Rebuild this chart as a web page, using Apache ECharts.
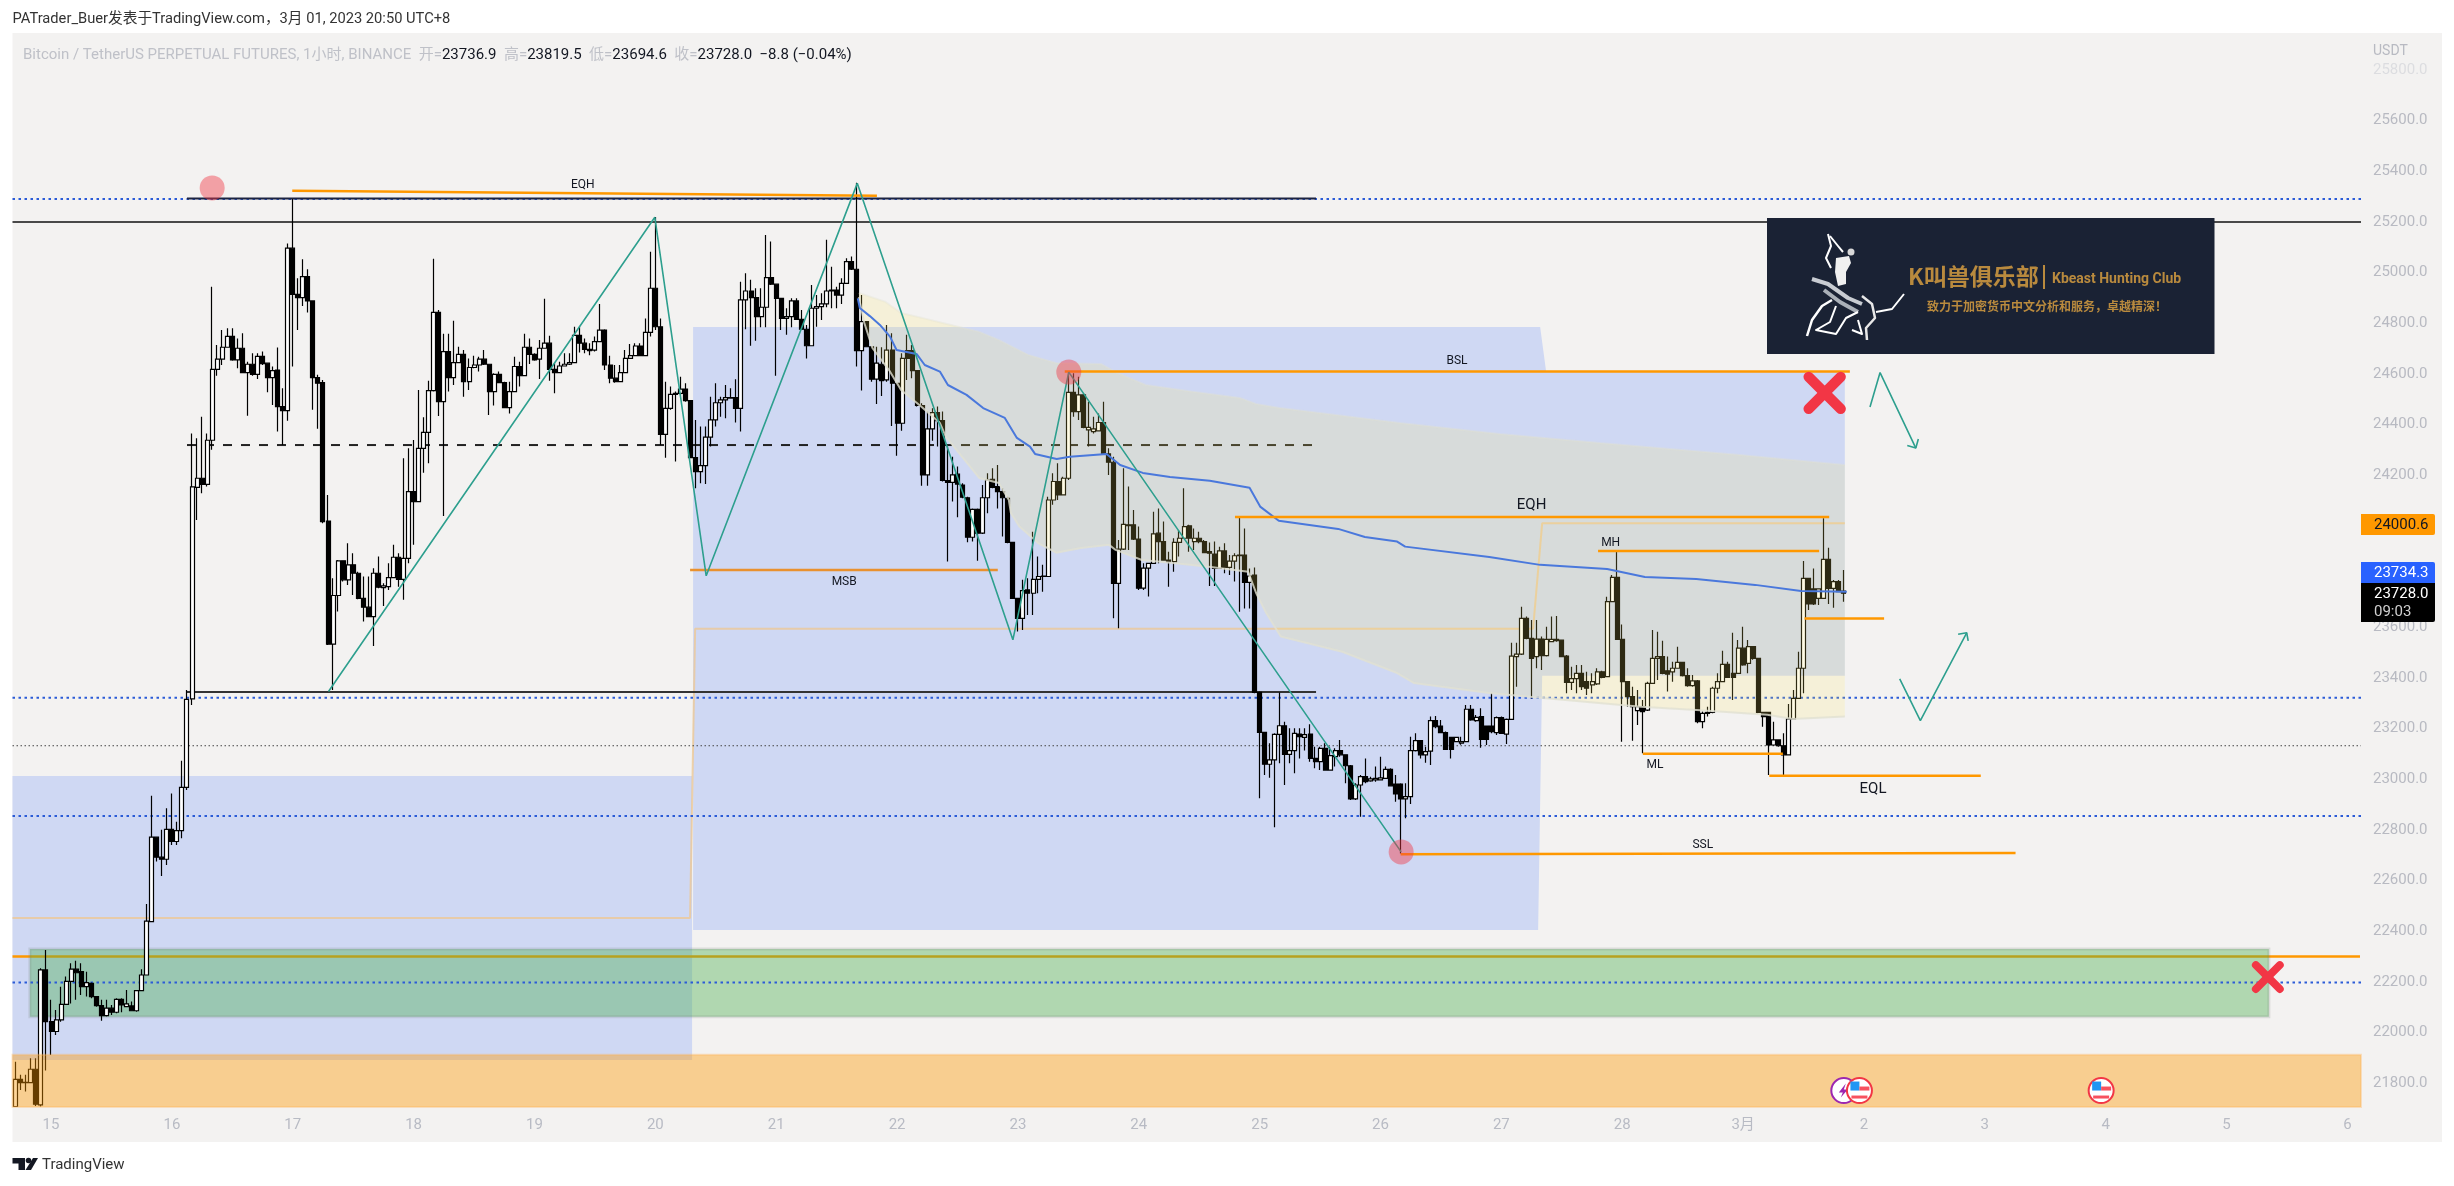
<!DOCTYPE html>
<html>
<head>
<meta charset="utf-8">
<title>BTCUSDT 1H</title>
<style>
html, body { margin: 0; padding: 0; background: #fff; }
#chart { width: 2454px; height: 1186px; }
</style>
<script src="https://cdn.jsdelivr.net/npm/echarts@6/dist/echarts.min.js"></script>
</head>
<body>
<div id="chart"></div>
<script>
// hourly candles, one row per hour: open, close, low, high
var candlesFeb14 = [
  [21702,21809,21700,21879],[21809,21796,21767,21827],[21796,21797,21761,21827],[21796,21849,21794,21892],
  [21849,21711,21704,21892],[21708,22241,21702,22248],[22241,22037,21844,22320]
]
var candlesFeb15 = [
  [22037,21998,21905,22123],[21998,22044,21984,22083],[22044,22105,22037,22175],[22105,22196,22103,22215],
  [22196,22244,22109,22267],[22244,22230,22123,22277],[22234,22175,22142,22267],[22175,22191,22136,22234],
  [22188,22136,22129,22191],[22136,22100,22096,22136],[22100,22061,22040,22123],[22061,22090,22057,22123],
  [22090,22074,22063,22103],[22074,22125,22070,22129],[22125,22103,22074,22129],[22096,22107,22094,22162],
  [22099,22080,22078,22116],[22080,22159,22076,22162],[22159,22221,22159,22244],[22221,22434,22221,22501],
  [22432,22765,22432,22929],[22765,22686,22669,22767],[22686,22678,22612,22794],[22678,22796,22655,22879]
]
var candlesFeb16 = [
  [22796,22748,22734,22938],[22748,22791,22734,22826],[22791,22962,22761,23067],[22962,23309,22951,23346],
  [23311,24148,23287,24359],[24146,24182,24017,24340],[24182,24158,24123,24425],[24158,24332,24149,24359],
  [24332,24612,24294,24938],[24612,24652,24587,24708],[24652,24699,24629,24767],[24699,24742,24699,24774],
  [24742,24649,24646,24774],[24649,24695,24616,24734],[24695,24599,24596,24754],[24599,24632,24429,24642],
  [24632,24592,24587,24675],[24592,24663,24574,24675],[24663,24634,24629,24682],[24636,24579,24521,24638],
  [24579,24607,24471,24623],[24609,24465,24366,24698],[24465,24449,24313,24537],[24449,25090,24409,25109]
]
var candlesFeb17 = [
  [25090,24908,24623,25284],[24908,24895,24767,24971],[24895,24978,24862,25046],[24978,24882,24836,25007],
  [24882,24579,24452,24882],[24579,24557,24377,24590],[24559,24011,24004,24570],[24013,23527,23524,24116],
  [23527,23719,23346,23787],[23719,23856,23656,23859],[23856,23781,23774,23856],[23781,23840,23761,23925],
  [23840,23807,23721,23886],[23807,23708,23704,23813],[23708,23673,23616,23794],[23673,23636,23633,23794],
  [23636,23807,23520,23827],[23807,23752,23748,23873],[23750,23757,23678,23767],[23754,23790,23741,23846],
  [23790,23870,23787,23919],[23870,23783,23754,23886],[23783,23866,23702,24261],[23866,24129,23846,24300]
]
var candlesFeb18 = [
  [24129,24090,23919,24333],[24090,24300,24090,24530],[24300,24363,24204,24423],[24363,24528,24241,24567],
  [24528,24837,24524,25048],[24837,24484,24428,24846],[24484,24682,24033,24752],[24682,24579,24524,24752],
  [24579,24638,24550,24804],[24638,24671,24636,24701],[24671,24563,24504,24688],[24563,24619,24530,24655],
  [24619,24629,24616,24665],[24629,24652,24603,24662],[24652,24632,24629,24688],[24632,24524,24432,24632],
  [24524,24592,24469,24596],[24592,24559,24557,24603],[24559,24461,24461,24563],[24461,24524,24438,24563],
  [24524,24623,24521,24662],[24623,24587,24544,24642],[24587,24699,24587,24752],[24699,24671,24633,24734]
]
var candlesFeb19 = [
  [24671,24649,24646,24675],[24652,24695,24574,24728],[24695,24715,24695,24890],[24715,24612,24567,24744],
  [24612,24599,24517,24636],[24599,24625,24596,24642],[24625,24632,24623,24675],[24632,24638,24629,24675],
  [24638,24746,24636,24780],[24746,24715,24678,24780],[24715,24691,24675,24734],[24691,24686,24667,24715],
  [24688,24721,24682,24741],[24721,24767,24719,24870],[24767,24629,24609,24770],[24629,24577,24557,24665],
  [24577,24563,24559,24629],[24563,24599,24563,24629],[24599,24655,24596,24688],[24655,24666,24653,24712],
  [24666,24704,24665,24715],[24704,24666,24665,24715],[24666,24758,24665,24813],[24758,24932,24741,25076]
]
var candlesFeb20 = [
  [24932,24780,24767,25213],[24780,24355,24313,24813],[24355,24458,24263,24563],[24458,24513,24452,24544],
  [24513,24517,24248,24524],[24517,24534,24511,24583],[24534,24488,24484,24557],[24488,24263,24261,24491],
  [24263,24208,24142,24412],[24208,24232,24162,24386],[24232,24344,24159,24386],[24344,24412,24307,24504],
  [24412,24480,24386,24557],[24480,24491,24425,24504],[24491,24500,24419,24550],[24498,24500,24498,24537],
  [24500,24458,24402,24573],[24458,24886,24366,24958],[24886,24921,24770,24991],[24921,24895,24705,24965],
  [24895,24820,24725,24932],[24820,24857,24778,24932],[24857,24974,24778,25142],[24974,24948,24945,25116]
]
var candlesFeb21 = [
  [24948,24892,24587,24951],[24892,24813,24767,24892],[24813,24820,24748,24853],[24820,24882,24778,24892],
  [24882,24809,24807,24892],[24809,24770,24767,24846],[24770,24705,24655,24787],[24705,24853,24704,24945],
  [24853,24859,24780,24905],[24859,24870,24807,24912],[24870,24921,24857,25123],[24921,24925,24853,25017],
  [24925,24905,24853,24938],[24905,24951,24870,24971],[24951,25037,24951,25050],[25037,25007,25004,25057],
  [25007,24686,24623,25348],[24686,24800,24528,24905],[24800,24701,24699,24800],[24701,24573,24563,24701],
  [24573,24636,24475,24701],[24632,24567,24507,24699],[24570,24688,24563,24787],[24688,24557,24388,24754]
]
var candlesFeb22 = [
  [24557,24399,24271,24557],[24399,24655,24369,24675],[24686,24655,24570,24748],[24686,24607,24577,24708],
  [24607,24469,24465,24609],[24469,24195,24152,24478],[24195,24377,24152,24445],[24377,24441,24330,24458],
  [24441,24409,24307,24465],[24409,24173,24169,24445],[24173,24166,23853,24307],[24166,24195,24090,24267],
  [24198,24159,24028,24228],[24155,24107,24103,24162],[24105,23949,23929,24109],[23949,24059,23932,24063],
  [24059,23965,23856,24063],[23965,24105,23962,24155],[24105,24175,24044,24202],[24178,24146,24142,24221],
  [24149,24129,24063,24234],[24129,24105,23952,24142],[24103,23929,23925,24109],[23929,23708,23706,23929]
]
var candlesFeb23 = [
  [23708,23629,23577,23708],[23629,23738,23583,23781],[23741,23728,23642,23787],[23728,23783,23642,23971],
  [23783,23794,23728,23873],[23794,23796,23734,23840],[23794,24096,23794,24109],[24096,24169,24077,24202],
  [24169,24116,24096,24241],[24116,24182,24116,24188],[24182,24521,24175,24596],[24521,24445,24425,24596],
  [24445,24511,24412,24583],[24511,24383,24379,24517],[24373,24383,24307,24484],[24366,24377,24359,24425],
  [24369,24402,24366,24438],[24402,24280,24280,24484],[24278,24245,24195,24300],[24245,23767,23629,24267],
  [23767,23902,23590,23938],[23902,24000,23899,24221],[23998,23995,23899,24149],[23998,23942,23938,24057]
]
var candlesFeb24 = [
  [23942,23748,23741,23991],[23748,23827,23741,23846],[23827,23846,23715,23846],[23846,23962,23846,24050],
  [23965,23932,23846,24063],[23932,23859,23859,24011],[23859,23853,23754,23892],[23853,23929,23813,23945],
  [23929,23945,23873,23978],[23945,23991,23945,24142],[23994,23945,23892,23998],[23932,23945,23899,23984],
  [23945,23932,23925,23971],[23932,23888,23886,23938],[23892,23886,23757,23928],[23883,23826,23757,23932],
  [23826,23895,23826,23912],[23895,23830,23807,23925],[23830,23855,23800,23879],[23855,23876,23774,23886],
  [23876,23879,23655,24028],[23879,23771,23668,23984],[23771,23796,23668,23826],[23800,23337,23333,23830]
]
var candlesFeb25 = [
  [23337,23179,22919,23340],[23179,23053,23011,23179],[23053,23070,23000,23136],[23070,23171,22804,23175],
  [23171,23205,23057,23336],[23205,23092,22971,23221],[23092,23107,23057,23195],[23107,23175,23017,23195],
  [23172,23162,23076,23195],[23159,23170,23107,23195],[23172,23076,23063,23211],[23076,23063,23037,23122],
  [23063,23116,23030,23122],[23116,23030,23028,23136],[23030,23087,23030,23122],[23083,23107,23044,23116],
  [23107,23090,23083,23149],[23090,23047,22978,23090],[23047,22916,22912,23050],[22916,22971,22912,22978],
  [22971,23004,22846,23011],[23004,22984,22978,23076],[22987,22995,22984,23004],[22991,22997,22984,23044]
]
var candlesFeb26 = [
  [22991,22999,22991,23083],[22997,23033,22997,23044],[23033,22968,22968,23037],[22975,22936,22905,23011],
  [22975,22916,22701,22978],[22916,22925,22840,22978],[22925,23107,22896,23162],[23107,23146,23103,23175],
  [23146,23090,23076,23149],[23090,23103,23059,23122],[23105,23225,23050,23241],[23225,23201,23195,23243],
  [23204,23178,23175,23228],[23178,23112,23109,23182],[23159,23112,23076,23162],[23142,23159,23142,23162],
  [23136,23142,23130,23162],[23142,23270,23142,23287],[23270,23228,23225,23287],[23225,23238,23221,23247],
  [23241,23151,23118,23274],[23204,23151,23129,23204],[23204,23182,23175,23333],[23178,23237,23168,23241]
]
var candlesFeb27 = [
  [23237,23175,23172,23241],[23172,23230,23133,23234],[23230,23480,23230,23533],[23478,23488,23359,23533],
  [23488,23629,23484,23675],[23629,23550,23546,23636],[23550,23471,23313,23622],[23478,23547,23432,23622],
  [23547,23482,23425,23557],[23482,23546,23478,23596],[23537,23546,23537,23636],[23546,23541,23537,23638],
  [23543,23478,23478,23543],[23480,23376,23333,23484],[23376,23391,23346,23438],[23391,23412,23333,23445],
  [23412,23359,23346,23445],[23379,23353,23326,23418],[23366,23379,23333,23412],[23370,23418,23366,23432],
  [23418,23396,23392,23422],[23399,23695,23396,23714],[23695,23791,23695,23800],[23791,23546,23543,23892]
]
var candlesFeb28 = [
  [23546,23379,23142,23605],[23379,23320,23280,23379],[23320,23280,23146,23359],[23265,23280,23208,23346],
  [23280,23261,23096,23307],[23267,23372,23263,23379],[23372,23471,23372,23583],[23471,23478,23386,23576],
  [23478,23412,23408,23540],[23422,23409,23340,23478],[23418,23432,23379,23458],[23432,23455,23432,23517],
  [23455,23403,23399,23458],[23403,23363,23359,23432],[23363,23382,23359,23405],[23382,23221,23215,23386],
  [23221,23254,23195,23261],[23254,23258,23241,23280],[23258,23353,23254,23359],[23353,23379,23333,23412],
  [23379,23447,23379,23501],[23447,23396,23395,23458],[23412,23396,23307,23572],[23412,23511,23412,23543]
]
var candlesMar01 = [
  [23511,23445,23442,23596],[23451,23517,23412,23543],[23517,23471,23465,23520],[23471,23258,23254,23471],
  [23258,23241,23201,23258],[23258,23129,23011,23258],[23129,23149,23126,23221],[23149,23126,23122,23149],
  [23126,23090,23011,23175],[23090,23232,23090,23291],[23232,23313,23230,23346],[23313,23432,23313,23497],
  [23432,23787,23333,23855],[23787,23686,23662,23787],[23745,23686,23682,23826],[23708,23745,23682,23747],
  [23708,23862,23705,24024],[23862,23747,23686,23908],[23747,23774,23671,23780],[23774,23734,23732,23780],
  [23736.9,23728.0,23694.6,23819.5]
]
var firstHour = -7 // hours before 15 Feb 00:00

// axis labels
var dayLabels = ['15','16','17','18','19','20','21','22','23','24','25','26','27','28','3月','2','3','4','5','6']
var priceTicks = [21800,22000,22200,22400,22600,22800,23000,23200,23400,23600,23800,24000,24200,24400,24600,24800,25000,25200,25400,25600,25800]

// moving average and cloud edges: [hour, price]
var maLine = [[160.2,24892],[160.6,24854],[162.6,24822],[164.6,24787],[166.6,24741],[167.9,24688],[171.9,24672],[173.5,24629],[176.5,24603],[178.1,24550],[181.8,24511],[185.1,24459],[189.4,24420],[191.8,24341],[194.4,24307],[195.4,24278],[199.7,24258],[202.3,24267],[209.6,24278],[212.3,24234],[216.8,24203],[222.2,24187],[230.1,24172],[238,24144],[240.1,24070],[243.8,24014],[255.6,23982],[260.9,23950],[267.3,23932],[268.9,23912],[285.6,23871],[295.7,23840],[309,23824],[316.5,23792],[326.7,23784],[338.4,23761],[347.5,23737],[356.6,23734]]
var cloudUpper = [[160.4,24913],[165.6,24879],[168.8,24834],[173.8,24811],[179.3,24784],[184.3,24760],[188.2,24728],[194,24669],[199.6,24637],[208.5,24633],[211.8,24597],[217.4,24550],[226.4,24524],[236.1,24499],[239.3,24475],[244,24459],[267.9,24400],[287.7,24357],[307.6,24321],[335.4,24274],[356.2,24234]]
var cloudLower = [[160.4,24897],[161.5,24795],[163.1,24696],[166.4,24609],[168.8,24530],[172.9,24463],[176.5,24400],[177.7,24345],[184.3,24183],[188.2,24163],[190.2,24096],[190.6,24045],[192.3,23991],[196,23926],[199.6,23888],[204.5,23907],[210.1,23919],[211.4,23899],[216.6,23859],[222.3,23848],[230.3,23832],[237.7,23813],[239.3,23729],[241.3,23650],[244.2,23557],[256.4,23497],[267.3,23413],[270.6,23374],[285.6,23334],[295.7,23315],[315.7,23280],[326.7,23267],[340.8,23248],[345.9,23232],[356.2,23241]]

// zones
var blueBoxLeft = [[-7.65,23007],[127.3,23007],[127.3,21886],[-7.65,21886]]
var blueBoxMain = [[127.5,24779],[295.7,24779],[296.9,24601],[356.2,24601],[356.2,23402],[296.1,23402],[295.3,22399],[127.5,22399]]
var greenBox = [[-4.2,22324],[440.4,22324],[440.4,22056],[-4.2,22056]]
var orangeBand = [[-7.65,21906],[458.7,21906],[458.7,21700],[-7.65,21700]]
var tanSteps = [[-7.65,22446],[126.9,22446],[127.9,23588],[294.3,23588],[296.1,24004],[356.2,24004]]

// horizontal levels
var dottedBlueLevels = [25284,23315,22849,22191]
var dottedGrayLevel = 23126
var blackLevel = 25193
var navyTop = [[27,25286],[251.2,25286]]
var navyBottom = [[27,23338],[251.2,23338]]
var dashedMid = [[27,24313],[251.2,24313]]

// orange drawings
var eqhTop = [[47.9,25317],[164,25297]]
var msbLine = [[126.9,23820],[188,23820]]
var bslLine = [[201.3,24603],[357.2,24603]]
var eqhRight = [[235.1,24029],[353.1,24029]]
var mhLine = [[307.2,23895],[351.1,23895]]
var shortLine = [[348.2,23628],[364,23628]]
var mlLine = [[316.1,23094],[343.9,23094]]
var eqlLine = [[341.2,23008],[383.2,23008]]
var sslLine = [[268,22698],[390.1,22703]]
var supportLine = [[-7.65,22294],[458.5,22294]]

// teal drawings
var zigzag = [[55.1,23340],[119.9,25212],[130.1,23797],[160.1,25346],[191,23544],[202.1,24601],[268.1,22707]]
var arrowDown = [[361.2,24463],[363.2,24599],[370.3,24301]]
var arrowDownHead = [[368.6,24311],[370.3,24301],[370.8,24337]]
var arrowUp = [[367.1,23390],[371.2,23225],[380.4,23572]]
var arrowUpHead = [[378.7,23566],[380.4,23572],[380.7,23540]]

// markers and labels
var pinkDots = [[32,25328],[202.1,24601],[268.1,22707]]
var crossMarks = [[352.2,24519],[440.2,22213]]
var eventMarks = [[356,21765],[359.1,21765],[407.1,21765]]
var smallLabels = [[105.6,25347,'EQH'],[157.5,23780,'MSB'],[279.2,24649,'BSL'],[309.7,23934,'MH'],[318.5,23054,'ML'],[328,22742,'SSL']]
var largeLabels = [[294,24083,'EQH'],[361.8,22961,'EQL']]

var fontFamily = 'Roboto, "Noto Sans CJK SC", sans-serif'

var candleRows = [].concat(candlesFeb14, candlesFeb15, candlesFeb16, candlesFeb17, candlesFeb18, candlesFeb19, candlesFeb20,
  candlesFeb21, candlesFeb22, candlesFeb23, candlesFeb24, candlesFeb25, candlesFeb26, candlesFeb27, candlesFeb28, candlesMar01)
var candleData = candleRows.map(function (row, i) {
  return [firstHour + i, row[0], row[1], row[2], row[3]]
})

function drawLine(points, color, width, z, dash) {
  return {
    type: 'line',
    data: points,
    z: z,
    silent: true,
    showSymbol: false,
    animation: false,
    lineStyle: { color: color, width: width, type: dash || 'solid', cap: 'butt' }
  }
}

function level(price) {
  return [[-7.65, price], [458.7, price]]
}

function drawPolygon(points, style, z) {
  return {
    type: 'custom',
    data: points,
    encode: { x: 0, y: 1 },
    z: z,
    silent: true,
    animation: false,
    renderItem: function (params, api) {
      if (params.dataIndex !== 0) return null
      return {
        type: 'polygon',
        shape: { points: points.map(function (p) { return api.coord(p) }) },
        style: style
      }
    }
  }
}

function drawLabels(labels, size, weight, color) {
  return {
    type: 'custom',
    data: labels,
    encode: { x: 0, y: 1 },
    z: 12,
    silent: true,
    animation: false,
    renderItem: function (params, api) {
      var p = api.coord([api.value(0), api.value(1)])
      return {
        type: 'text',
        style: {
          text: labels[params.dataIndex][2], x: p[0], y: p[1] + 1.5, align: 'center', verticalAlign: 'middle',
          fill: color, font: weight + ' ' + size + 'px ' + fontFamily
        }
      }
    }
  }
}

var cloudShape = cloudUpper.concat(cloudLower.slice().reverse())

var series = [
  drawPolygon(blueBoxLeft, { fill: '#cfd8f3' }, 1),
  drawPolygon(blueBoxMain, { fill: '#cfd8f3' }, 1),
  drawLine(tanSteps, 'rgba(236,200,150,0.8)', 2, 2),
  drawLine(supportLine, '#ff9800', 2.5, 2),
  drawPolygon(greenBox, { fill: 'rgba(76,175,80,0.4)', stroke: 'rgba(120,130,125,0.2)', lineWidth: 3 }, 3),
  drawLine(level(dottedBlueLevels[0]), '#2a5bd7', 2, 4, [2.5, 3.5]),
  drawLine(level(dottedBlueLevels[1]), '#2a5bd7', 2, 4, [2.5, 3.5]),
  drawLine(level(dottedBlueLevels[2]), '#2a5bd7', 2, 4, [2.5, 3.5]),
  drawLine(level(dottedBlueLevels[3]), '#2a5bd7', 2, 4, [2.5, 3.5]),
  drawLine(level(dottedGrayLevel), '#444', 1, 4, [1.5, 2.5]),
  drawLine(level(blackLevel), '#111', 1.5, 4),
  drawLine(navyTop, '#1c2340', 2, 4),
  drawLine(navyBottom, '#333', 2, 4),
  drawLine(dashedMid, '#222', 2, 4, [9, 9]),
  {
    type: 'candlestick',
    data: candleData,
    z: 5,
    silent: true,
    animation: false,
    progressive: 0,
    barWidth: 4.5,
    encode: { x: 0, y: [1, 2, 3, 4] },
    itemStyle: { color: '#fff', color0: '#000', borderColor: '#000', borderColor0: '#000', borderWidth: 1.2 }
  },
  drawPolygon(cloudShape, { fill: 'rgba(255,232,106,0.18)' }, 6),
  drawLine(cloudLower, 'rgba(225,225,210,0.8)', 2, 6),
  drawLine(cloudUpper, 'rgba(225,225,210,0.35)', 2, 6),
  drawPolygon(orangeBand, { fill: 'rgba(255,152,0,0.4)', stroke: 'rgba(255,180,90,0.35)', lineWidth: 2 }, 6),
  drawLine(maLine, '#4a78dc', 2, 7),
  drawLine(eqhTop, '#ff9800', 2.5, 7),
  drawLine(msbLine, '#e9912e', 2.5, 7),
  drawLine(bslLine, '#ff9800', 2.5, 7),
  drawLine(eqhRight, '#ff9800', 2.5, 7),
  drawLine(mhLine, '#ff9800', 2.5, 7),
  drawLine(shortLine, '#ff9800', 2.5, 7),
  drawLine(mlLine, '#ff9800', 2.5, 7),
  drawLine(eqlLine, '#ff9800', 2.5, 7),
  drawLine(sslLine, '#ff9800', 2.5, 7),
  drawLine(zigzag, '#2d9f8e', 1.6, 8),
  drawLine(arrowDown, '#2d9f8e', 1.6, 8),
  drawLine(arrowDownHead, '#2d9f8e', 1.6, 8),
  drawLine(arrowUp, '#2d9f8e', 1.6, 8),
  drawLine(arrowUpHead, '#2d9f8e', 1.6, 8),
  {
    type: 'scatter',
    data: pinkDots,
    z: 9,
    silent: true,
    animation: false,
    symbolSize: 25,
    itemStyle: { color: 'rgba(242,54,69,0.55)' }
  },
  {
    type: 'custom',
    data: crossMarks,
    encode: { x: 0, y: 1 },
    z: 10,
    silent: true,
    animation: false,
    renderItem: function (params, api) {
      var p = api.coord([api.value(0), api.value(1)])
      var half = params.dataIndex === 0 ? 16 : 12
      var style = { stroke: '#f23645', lineWidth: half * 0.65, lineCap: 'round' }
      return {
        type: 'group',
        children: [
          { type: 'line', shape: { x1: p[0] - half, y1: p[1] - half, x2: p[0] + half, y2: p[1] + half }, style: style },
          { type: 'line', shape: { x1: p[0] + half, y1: p[1] - half, x2: p[0] - half, y2: p[1] + half }, style: style }
        ]
      }
    }
  },
  {
    type: 'custom',
    data: eventMarks,
    encode: { x: 0, y: 1 },
    z: 11,
    silent: true,
    animation: false,
    renderItem: function (params, api) {
      var p = api.coord([api.value(0), api.value(1)])
      var x = p[0], y = p[1]
      if (params.dataIndex === 0) {
        return {
          type: 'group',
          children: [
            { type: 'circle', shape: { cx: x, cy: y, r: 12.5 }, style: { fill: '#fff', stroke: '#9c27b0', lineWidth: 2 } },
            { type: 'polygon', shape: { points: [[x + 2, y - 7], [x - 5, y + 2], [x - 1, y + 2], [x - 3, y + 7], [x + 4, y - 1], [x, y - 1]] }, style: { fill: '#9c27b0' } }
          ]
        }
      }
      return {
        type: 'group',
        children: [
          { type: 'circle', shape: { cx: x, cy: y, r: 12.5 }, style: { fill: '#fff', stroke: '#f23645', lineWidth: 2 } },
          { type: 'rect', shape: { x: x - 9, y: y - 9, width: 9, height: 9 }, style: { fill: '#2196f3' } },
          { type: 'rect', shape: { x: x, y: y - 4, width: 10, height: 4 }, style: { fill: '#f7525f' } },
          { type: 'rect', shape: { x: x - 8, y: y + 5, width: 16, height: 3 }, style: { fill: '#f7525f' } }
        ]
      }
    }
  },
  drawLabels(smallLabels, 12, 'normal', '#131722'),
  drawLabels(largeLabels, 15, 'normal', '#131722')
]

// rough hunter sketch for the logo card
function sketch(points, color, width) {
  return { type: 'polyline', z: 101, silent: true, shape: { points: points }, style: { stroke: color, lineWidth: width, fill: 'none', lineJoin: 'round' } }
}

var graphicItems = [
  // panel behind plot and axes
  { type: 'rect', z: -10, silent: true, shape: { x: 12.5, y: 33, width: 2429.5, height: 1109 }, style: { fill: '#f3f2f1' } },
  // logo card
  { type: 'rect', z: 100, silent: true, shape: { x: 1767, y: 218, width: 447.5, height: 136 }, style: { fill: '#1a2234' } },
  sketch([[1828,234],[1831,246],[1826,258],[1831,268]], '#fff', 2),
  sketch([[1830,236],[1838,246],[1843,252]], '#fff', 2),
  { type: 'circle', z: 101, silent: true, shape: { cx: 1851, cy: 252, r: 3.5 }, style: { fill: '#d8d8d8' } },
  { type: 'polygon', z: 101, silent: true, shape: { points: [[1836,258],[1849,256],[1851,263],[1846,272],[1846,284],[1838,286],[1835,272]] }, style: { fill: '#f0f0f0' } },
  sketch([[1812,279],[1828,284],[1848,298],[1862,304]], '#c8ccd2', 4),
  sketch([[1824,290],[1840,302],[1858,312]], '#aab0b8', 4),
  sketch([[1807,336],[1812,320],[1822,306],[1832,300]], '#fff', 2.5),
  sketch([[1836,306],[1830,322],[1816,330],[1836,334],[1846,318],[1858,312]], '#fff', 2),
  sketch([[1862,296],[1872,304],[1875,318],[1866,328],[1867,340]], '#e8e8e8', 2.5),
  sketch([[1858,320],[1862,334],[1852,330]], '#fff', 2),
  sketch([[1876,312],[1892,309],[1904,294]], '#fff', 2),
  { type: 'text', z: 101, silent: true, style: { x: 1908, y: 276, text: 'K叫兽俱乐部', verticalAlign: 'middle', fill: '#b98a3e', font: 'bold 23px "Noto Sans CJK SC", sans-serif' } },
  { type: 'rect', z: 101, silent: true, shape: { x: 2043, y: 265, width: 2, height: 24 }, style: { fill: '#b98a3e' } },
  { type: 'text', z: 101, silent: true, style: { x: 2052, y: 279, text: 'Kbeast Hunting Club', verticalAlign: 'middle', fill: '#b98a3e', font: 'bold 14px Roboto, sans-serif' } },
  { type: 'text', z: 101, silent: true, style: { x: 1927, y: 306, text: '致力于加密货币中文分析和服务，卓越精深！', verticalAlign: 'middle', fill: '#b98a3e', font: 'bold 12px "Noto Sans CJK SC", sans-serif' } },
  // price tags on the axis
  { type: 'rect', z: 100, silent: true, shape: { x: 2361, y: 514, width: 74, height: 21, r: [0, 2, 2, 0] }, style: { fill: '#ff9800' } },
  { type: 'text', z: 101, silent: true, style: { x: 2374, y: 525, text: '24000.6', verticalAlign: 'middle', fill: '#131722', font: '15px ' + fontFamily } },
  { type: 'rect', z: 100, silent: true, shape: { x: 2361, y: 562, width: 74, height: 21, r: [0, 2, 0, 0] }, style: { fill: '#2962ff' } },
  { type: 'text', z: 101, silent: true, style: { x: 2374, y: 573, text: '23734.3', verticalAlign: 'middle', fill: '#fff', font: '15px ' + fontFamily } },
  { type: 'rect', z: 100, silent: true, shape: { x: 2361, y: 583, width: 74, height: 39, r: [0, 0, 2, 0] }, style: { fill: '#000' } },
  { type: 'text', z: 101, silent: true, style: { x: 2374, y: 594, text: '23728.0', verticalAlign: 'middle', fill: '#fff', font: '15px ' + fontFamily } },
  { type: 'text', z: 101, silent: true, style: { x: 2374, y: 612, text: '09:03', verticalAlign: 'middle', fill: '#cfcfcf', font: '15px ' + fontFamily } },
  { type: 'text', z: 101, silent: true, style: { x: 2373, y: 51, text: 'USDT', verticalAlign: 'middle', fill: '#b8bac2', font: '14px ' + fontFamily } },
  // footer mark
  { type: 'polygon', silent: true, shape: { points: [[12.5,1158],[25,1158],[25,1170],[18.5,1170],[18.5,1163.5],[12.5,1163.5]] }, style: { fill: '#131722' } },
  { type: 'circle', silent: true, shape: { cx: 28.5, cy: 1160.5, r: 2.8 }, style: { fill: '#131722' } },
  { type: 'polygon', silent: true, shape: { points: [[33,1158],[38,1158],[31,1170],[25.5,1170]] }, style: { fill: '#131722' } },
  { type: 'text', silent: true, style: { x: 42, y: 1165, text: 'TradingView', verticalAlign: 'middle', fill: '#333', font: '15px ' + fontFamily } }
]

var myChart = echarts.init(document.getElementById('chart'))
myChart.setOption({
  backgroundColor: '#fff',
  animation: false,
  title: [
    {
      text: 'PATrader_Buer发表于TradingView.com，3月 01, 2023 20:50 UTC+8',
      left: 12.5,
      top: 12,
      padding: 0,
      textStyle: { color: '#333', fontSize: 14.7, fontWeight: 'normal', fontFamily: fontFamily }
    },
    {
      text: '{g|Bitcoin / TetherUS PERPETUAL FUTURES, 1小时, BINANCE  开=}{b|23736.9}{g|  高=}{b|23819.5}{g|  低=}{b|23694.6}{g|  收=}{b|23728.0}{b|  −8.8 (−0.04%)}',
      left: 23,
      top: 48,
      padding: 0,
      textStyle: {
        fontSize: 15,
        fontWeight: 'normal',
        fontFamily: fontFamily,
        rich: {
          g: { color: '#bfc1c8', fontSize: 15, fontFamily: fontFamily },
          b: { color: '#131722', fontSize: 15, fontFamily: fontFamily }
        }
      }
    }
  ],
  grid: { left: 12.5, top: 33, width: 2348.5, height: 1074 },
  xAxis: {
    type: 'value',
    min: -7.65,
    max: 458.7,
    splitLine: { show: false },
    axisLine: { show: false },
    axisTick: { show: false },
    axisLabel: {
      customValues: dayLabels.map(function (d, i) { return i * 24 }),
      formatter: function (v) { return dayLabels[v / 24] },
      color: '#b8bbc4',
      fontSize: 15,
      fontFamily: fontFamily,
      margin: 11
    }
  },
  yAxis: {
    type: 'value',
    position: 'right',
    min: 21700,
    max: 25939.5,
    scale: true,
    splitLine: { show: false },
    axisLine: { show: false },
    axisTick: { show: false },
    axisLabel: {
      customValues: priceTicks,
      formatter: function (v) { return v === 25800 ? '{faint|' + v.toFixed(1) + '}' : v.toFixed(1) },
      color: '#b8bac2',
      fontSize: 15,
      fontFamily: fontFamily,
      margin: 12,
      padding: [3, 0, 0, 0],
      rich: { faint: { color: '#dcdde0', fontSize: 15, fontFamily: fontFamily } }
    }
  },
  graphic: { elements: graphicItems },
  series: series
})
</script>
</body>
</html>
